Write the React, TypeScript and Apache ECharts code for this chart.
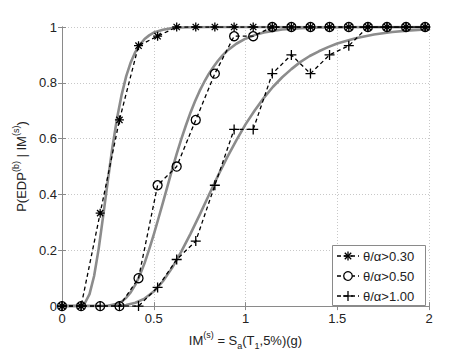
import React, { useEffect, useRef } from "react";
import * as echarts from "echarts";

const imLevels = [0, 0.104, 0.208, 0.313, 0.417, 0.521, 0.625, 0.729, 0.833, 0.938, 1.042, 1.146, 1.25, 1.354, 1.458, 1.563, 1.667, 1.771, 1.875, 1.979];
const pStar = [0, 0, 0.333, 0.667, 0.933, 0.967, 1, 1, 1, 1, 1, 1, 1, 1, 1, 1, 1, 1, 1, 1];
const pCircle = [0, 0, 0, 0, 0.1, 0.433, 0.5, 0.667, 0.833, 0.967, 0.967, 1, 1, 1, 1, 1, 1, 1, 1, 1];
const pPlus = [0, 0, 0, 0, 0, 0.067, 0.167, 0.233, 0.433, 0.633, 0.633, 0.833, 0.9, 0.833, 0.9, 0.933, 1, 1, 1, 1];

const fitX1 = [0, 0.1, 0.125, 0.15, 0.175, 0.2, 0.225, 0.25, 0.275, 0.3, 0.325, 0.35, 0.375, 0.4, 0.425, 0.45, 0.475, 0.5, 0.55, 0.6, 0.65, 0.7, 0.8, 2];
const fitY1 = [0, 0.001, 0.011, 0.043, 0.108, 0.206, 0.326, 0.451, 0.57, 0.673, 0.757, 0.824, 0.874, 0.911, 0.937, 0.957, 0.97, 0.98, 0.99, 0.996, 0.998, 0.999, 1, 1];
const fitX2 = [0, 0.25, 0.3, 0.325, 0.35, 0.375, 0.4, 0.425, 0.45, 0.475, 0.5, 0.525, 0.55, 0.575, 0.6, 0.625, 0.65, 0.675, 0.7, 0.725, 0.75, 0.775, 0.8, 0.825, 0.85, 0.875, 0.9, 0.95, 1.0, 1.05, 1.1, 1.15, 1.2, 1.3, 1.4, 1.6, 2];
const fitY2 = [0, 0.001, 0.008, 0.016, 0.03, 0.05, 0.077, 0.112, 0.154, 0.203, 0.256, 0.313, 0.371, 0.43, 0.489, 0.545, 0.598, 0.647, 0.693, 0.734, 0.771, 0.803, 0.832, 0.857, 0.879, 0.898, 0.915, 0.94, 0.958, 0.971, 0.98, 0.986, 0.991, 0.996, 0.998, 1, 1];
const fitX3 = [0, 0.3, 0.35, 0.4, 0.45, 0.5, 0.55, 0.6, 0.65, 0.7, 0.75, 0.8, 0.85, 0.9, 0.95, 1.0, 1.05, 1.1, 1.15, 1.2, 1.25, 1.3, 1.35, 1.4, 1.45, 1.5, 1.6, 1.7, 1.8, 1.9, 2.0];
const fitY3 = [0, 0.001, 0.004, 0.012, 0.027, 0.052, 0.089, 0.137, 0.195, 0.259, 0.327, 0.397, 0.467, 0.533, 0.594, 0.651, 0.701, 0.746, 0.786, 0.82, 0.849, 0.875, 0.896, 0.913, 0.928, 0.941, 0.96, 0.973, 0.982, 0.988, 0.992];

const seriesNames = ["θ/α>0.30", "θ/α>0.50", "θ/α>1.00"];
const xTicks = [0, 0.5, 1, 1.5, 2];

const STAR = "path://M0,5L10,5M5,0L5,10M1.5,1.5L8.5,8.5M8.5,1.5L1.5,8.5";
const PLUS = "path://M0,5L10,5M5,0L5,10";

const FONT = "'Liberation Sans', Arial, sans-serif";

export default function App() {
  const ref = useRef<HTMLDivElement>(null);
  useEffect(() => {
    if (!ref.current) return;
    const chart = echarts.init(ref.current, null, { renderer: "svg" });
    const zip = (xs: number[], ys: number[]) => xs.map((x, i) => [x, ys[i]]);
    const axisCommon = {
      type: "value" as const,
      axisLine: { show: true, lineStyle: { color: "#8a8a8a", width: 1 } },
      axisTick: { show: true, inside: true, length: 4, lineStyle: { color: "#8a8a8a" } },
    };
    const gray = { color: "#8c8c8c", width: 2.6, join: "round" as const, cap: "round" as const };
    const dashed = { color: "#000", width: 1.3, type: [4, 3] as any };
    const fitSeries = (xs: number[], ys: number[]) => ({
      type: "line",
      data: zip(xs, ys),
      smooth: false,
      showSymbol: false,
      symbol: "none",
      lineStyle: gray,
      itemStyle: { color: "#8c8c8c" },
      z: 2,
      silent: true,
    });

    // legend drawn with graphic elements
    const lgLeft = 332, lgTop = 245, lgW = 93, lgH = 60;
    const rowY = [256, 276, 296];
    const lx0 = 337, lx1 = 359, mx = 348;
    const stroke = { stroke: "#000", lineWidth: 1.3 };
    const markerFor = (i: number, y: number) => {
      if (i === 0) {
        return [
          { type: "line", shape: { x1: mx - 4.5, y1: y, x2: mx + 4.5, y2: y }, style: stroke },
          { type: "line", shape: { x1: mx, y1: y - 4.5, x2: mx, y2: y + 4.5 }, style: stroke },
          { type: "line", shape: { x1: mx - 3.2, y1: y - 3.2, x2: mx + 3.2, y2: y + 3.2 }, style: stroke },
          { type: "line", shape: { x1: mx + 3.2, y1: y - 3.2, x2: mx - 3.2, y2: y + 3.2 }, style: stroke },
        ];
      }
      if (i === 1) {
        return [{ type: "circle", shape: { cx: mx, cy: y, r: 4.3 }, style: { ...stroke, fill: "#fff" } }];
      }
      return [
        { type: "line", shape: { x1: mx - 5, y1: y, x2: mx + 5, y2: y }, style: stroke },
        { type: "line", shape: { x1: mx, y1: y - 5, x2: mx, y2: y + 5 }, style: stroke },
      ];
    };
    const legendEls: any[] = [
      {
        type: "rect",
        shape: { x: lgLeft + 0.5, y: lgTop + 0.5, width: lgW, height: lgH },
        style: { fill: "#fff", stroke: "#8a8a8a", lineWidth: 1 },
        z: 100,
      },
    ];
    seriesNames.forEach((name, i) => {
      const y = rowY[i];
      legendEls.push({
        type: "line",
        shape: { x1: lx0, y1: y, x2: lx1, y2: y },
        style: { stroke: "#000", lineWidth: 1.3, lineDash: [4, 3] },
        z: 101,
      });
      markerFor(i, y).forEach((m: any) => legendEls.push({ ...m, z: 102 }));
      legendEls.push({
        type: "text",
        x: 363,
        y: y,
        style: { text: name, fontSize: 13, fontFamily: FONT, fill: "#222", verticalAlign: "middle", align: "left" },
        z: 102,
      });
    });

    chart.setOption({
      animation: false,
      backgroundColor: "#fff",
      textStyle: { fontFamily: FONT },
      grid: { left: 62, right: 45, top: 27, bottom: 47 },
      graphic: legendEls,
      xAxis: [
        {
          ...axisCommon,
          min: 0,
          max: 2,
          interval: 0.5,
          position: "bottom",
          axisLabel: { fontSize: 13, color: "#222", margin: 6, formatter: (v: number) => (xTicks.includes(v) ? String(v) : "") },
          splitLine: { show: true, lineStyle: { color: "#c8c8c8", type: [1, 2] } },
          name: "{n|IM}{sup|(s)}{n| = S}{sub|a}{n|(T}{sub|1}{n|,5%)(g)}",
          nameLocation: "middle",
          nameGap: 20,
          nameTextStyle: {
            rich: {
              n: { fontSize: 13, color: "#222", fontFamily: FONT, lineHeight: 20, verticalAlign: "middle" },
              sup: { fontSize: 9, color: "#222", fontFamily: FONT, lineHeight: 10, verticalAlign: "top" },
              sub: { fontSize: 9, color: "#222", fontFamily: FONT, lineHeight: 10, verticalAlign: "bottom" },
            },
          },
        },
        {
          ...axisCommon,
          min: 0,
          max: 2,
          interval: 0.5,
          position: "top",
          axisLabel: { show: false },
          splitLine: { show: false },
        },
      ],
      yAxis: [
        {
          ...axisCommon,
          min: 0,
          max: 1,
          interval: 0.2,
          position: "left",
          axisLabel: { fontSize: 13, color: "#222", margin: 5, formatter: (v: number) => String(Math.round(v * 10) / 10) },
          splitLine: { show: true, lineStyle: { color: "#c8c8c8", type: [1, 2] } },
          name: "{n|P(EDP}{sup|(b)}{n| | IM}{sup|(s)}{n|)}",
          nameLocation: "middle",
          nameGap: 20,
          nameTextStyle: {
            rich: {
              n: { fontSize: 13, color: "#222", fontFamily: FONT, lineHeight: 20, verticalAlign: "middle" },
              sup: { fontSize: 9, color: "#222", fontFamily: FONT, lineHeight: 10, verticalAlign: "top" },
            },
          },
        },
        {
          ...axisCommon,
          min: 0,
          max: 1,
          interval: 0.2,
          position: "right",
          axisLabel: { show: false },
          splitLine: { show: false },
        },
      ],
      series: [
        fitSeries(fitX1, fitY1),
        fitSeries(fitX2, fitY2),
        fitSeries(fitX3, fitY3),
        {
          name: seriesNames[0],
          type: "line",
          data: zip(imLevels, pStar),
          symbol: STAR,
          symbolSize: 9,
          showAllSymbol: true,
          lineStyle: dashed,
          itemStyle: { color: "#000", borderColor: "#000", borderWidth: 1.3 },
          z: 3,
        },
        {
          name: seriesNames[1],
          type: "line",
          data: zip(imLevels, pCircle),
          symbol: "circle",
          symbolSize: 9,
          showAllSymbol: true,
          lineStyle: dashed,
          itemStyle: { color: "rgba(255,255,255,0)", borderColor: "#000", borderWidth: 1.3 },
          z: 3,
        },
        {
          name: seriesNames[2],
          type: "line",
          data: zip(imLevels, pPlus),
          symbol: PLUS,
          symbolSize: 10,
          showAllSymbol: true,
          lineStyle: dashed,
          itemStyle: { color: "#000", borderColor: "#000", borderWidth: 1.3 },
          z: 3,
        },
      ],
    });
    return () => chart.dispose();
  }, []);
  return (
    <div
      ref={ref}
      style={{ position: "fixed", left: 0, top: 0, width: 474, height: 355, background: "#fff" }}
    />
  );
}
